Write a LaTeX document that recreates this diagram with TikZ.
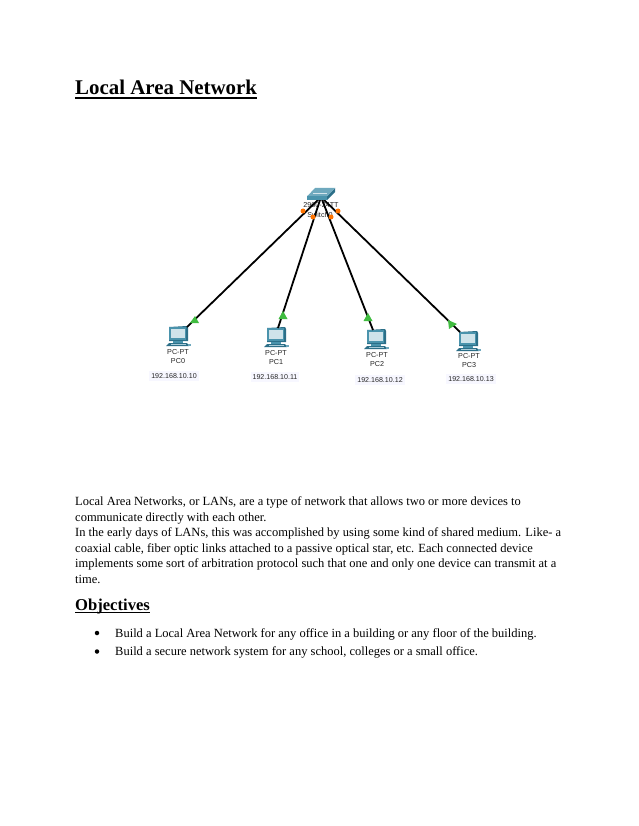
\documentclass[tikz,border=0pt]{standalone}
\usepackage{fontspec}
\setmainfont{Liberation Serif}
\newfontfamily\arialf{Liberation Sans}
\usetikzlibrary{calc}
\definecolor{tealb}{HTML}{4A93AC}
\definecolor{teald}{HTML}{2C6F88}
\definecolor{screenc}{HTML}{CFE3EA}
\definecolor{topc}{HTML}{6FA9BE}
\tikzset{
  x=1pt,y=-1pt,
  bodyline/.style={anchor=base west,inner sep=0,font=\fontsize{12.5}{15}\selectfont,text=black},
  headline/.style={anchor=base west,inner sep=0,font=\fontsize{20.9}{24}\selectfont\bfseries,text=black},
  subhead/.style={anchor=base west,inner sep=0,font=\fontsize{16.6}{20}\selectfont\bfseries,text=black},
  devlabel/.style={inner sep=0,font=\arialf\fontsize{7.2}{9}\selectfont,text=black!85},
  iplabel/.style={inner sep=2pt,fill=blue!3,font=\arialf\fontsize{7.1}{9}\selectfont,text=black!85},
  cable/.style={draw=black,line width=1.8pt},
  updot/.style={circle,fill=orange!90!red,inner sep=0,minimum size=5pt},
  bulletdot/.style={circle,fill=black,inner sep=0,minimum size=4.5pt},
  linkgreen/.style={fill=green!65!black!75!white},
  pics/pcicon/.style={code={
    \fill[teald] (-9,0) -- (9,-1) -- (10,1) -- (10,14) -- (-9,14) -- cycle;
    \fill[tealb] (-9,0) -- (8,0) -- (8,13) -- (-9,13) -- cycle;
    \fill[screenc] (-7,2) rectangle (6.5,11);
    \fill[tealb] (-5,14) rectangle (5,16);
    \fill[teald] (-9,16) -- (9,16) -- (11,19) -- (-12,19) -- cycle;
    \fill[topc!60!white] (-7,17) rectangle (8,18);
    \fill[topc] (10,17) rectangle (13,19);
  }}
}
\begin{document}
\begin{tikzpicture}
\useasboundingbox[fill=white] (0,0) rectangle (638,826);
% title
\node[headline] (title) at (75,95) {Local Area Network};
\draw[line width=1.3pt] (title.base west) ++(0,3) -- ($(title.base east)+(0,3)$);
% device anchors
\coordinate (hub) at (321,197);
\coordinate (pcz) at (187,327);
\coordinate (pca) at (278,328);
\coordinate (pcb) at (373,330);
\coordinate (pcc) at (460,332);
% pc icons
\pic at (178,327) {pcicon};
\pic at (276,328) {pcicon};
\pic at (376,330) {pcicon};
\pic at (468,332) {pcicon};
% switch labels
\node[devlabel] (swa) at (321,205) {2960-24TT};
\node[devlabel] (swb) at (320,215) {Switch0};
% cables
\draw[cable] (hub) -- (pcz);
\draw[cable] (hub) -- (pca);
\draw[cable] (hub) -- (pcb);
\draw[cable] (hub) -- (pcc);
% switch icon
\fill[teald] (307,196) -- (327,196) -- (335,188) -- (335,192) -- (327,200) -- (307,200) -- cycle;
\fill[topc] (307,196.5) -- (315,188) -- (335,188) -- (327,196.5) -- cycle;
\fill[tealb] (307,196.5) -- (327,196.5) -- (327,200) -- (307,200) -- cycle;
\draw[white!70!topc,line width=.5pt] (313,193) -- (327,193);
% link lights
\node[updot] (la) at (303,211) {};
\node[updot] (lb) at (313,217) {};
\node[updot] (lc) at (331,217) {};
\node[updot] (ld) at (338,211) {};
\fill[linkgreen] (195,316) -- (199,323) -- (190,323) -- cycle;
\fill[linkgreen] (283,311) -- (287.5,319) -- (278.5,319) -- cycle;
\fill[linkgreen] (368,313) -- (372.5,321) -- (363.5,321) -- cycle;
\fill[linkgreen] (448,320) -- (457,324) -- (449,329) -- cycle;
% pc labels
\node[devlabel] (p0a) at (178,352) {PC-PT};
\node[devlabel] (p0b) at (178,361) {PC0};
\node[iplabel] (p0c) at (174,376) {192.168.10.10};
\node[devlabel] (p1a) at (276,353) {PC-PT};
\node[devlabel] (p1b) at (276,362) {PC1};
\node[iplabel] (p1c) at (275,377) {192.168.10.11};
\node[devlabel] (p2a) at (377,355) {PC-PT};
\node[devlabel] (p2b) at (377,364) {PC2};
\node[iplabel] (p2c) at (380,380) {192.168.10.12};
\node[devlabel] (p3a) at (469,356) {PC-PT};
\node[devlabel] (p3b) at (469,365) {PC3};
\node[iplabel] (p3c) at (471,379) {192.168.10.13};
% body
\node[bodyline] (l1) at (75,505.5) {Local Area Networks, or LANs, are a type of network that allows two or more devices to};
\node[bodyline] (l2) at (75,521) {communicate directly with each other.};
\node[bodyline] (l3) at (75,536.7) {In the early days of LANs, this was accomplished by using some kind of shared medium. Like- a};
\node[bodyline] (l4) at (75,552.3) {coaxial cable, fiber optic links attached to a passive optical star, etc. Each connected device};
\node[bodyline] (l5) at (75,567.7) {implements some sort of arbitration protocol such that one and only one device can transmit at a};
\node[bodyline] (l6) at (75,583) {time.};
\node[subhead] (obj) at (75,610.5) {Objectives};
\draw[line width=1.1pt] (obj.base west) ++(0,2.4) -- ($(obj.base east)+(0,2.4)$);
\node[bulletdot] (b1) at (97,633) {};
\node[bulletdot] (b2) at (97,651.5) {};
\node[bodyline] (t1) at (115,637.3) {Build a Local Area Network for any office in a building or any floor of the building.};
\node[bodyline] (t2) at (115,655.7) {Build a secure network system for any school, colleges or a small office.};
\end{tikzpicture}
\end{document}
